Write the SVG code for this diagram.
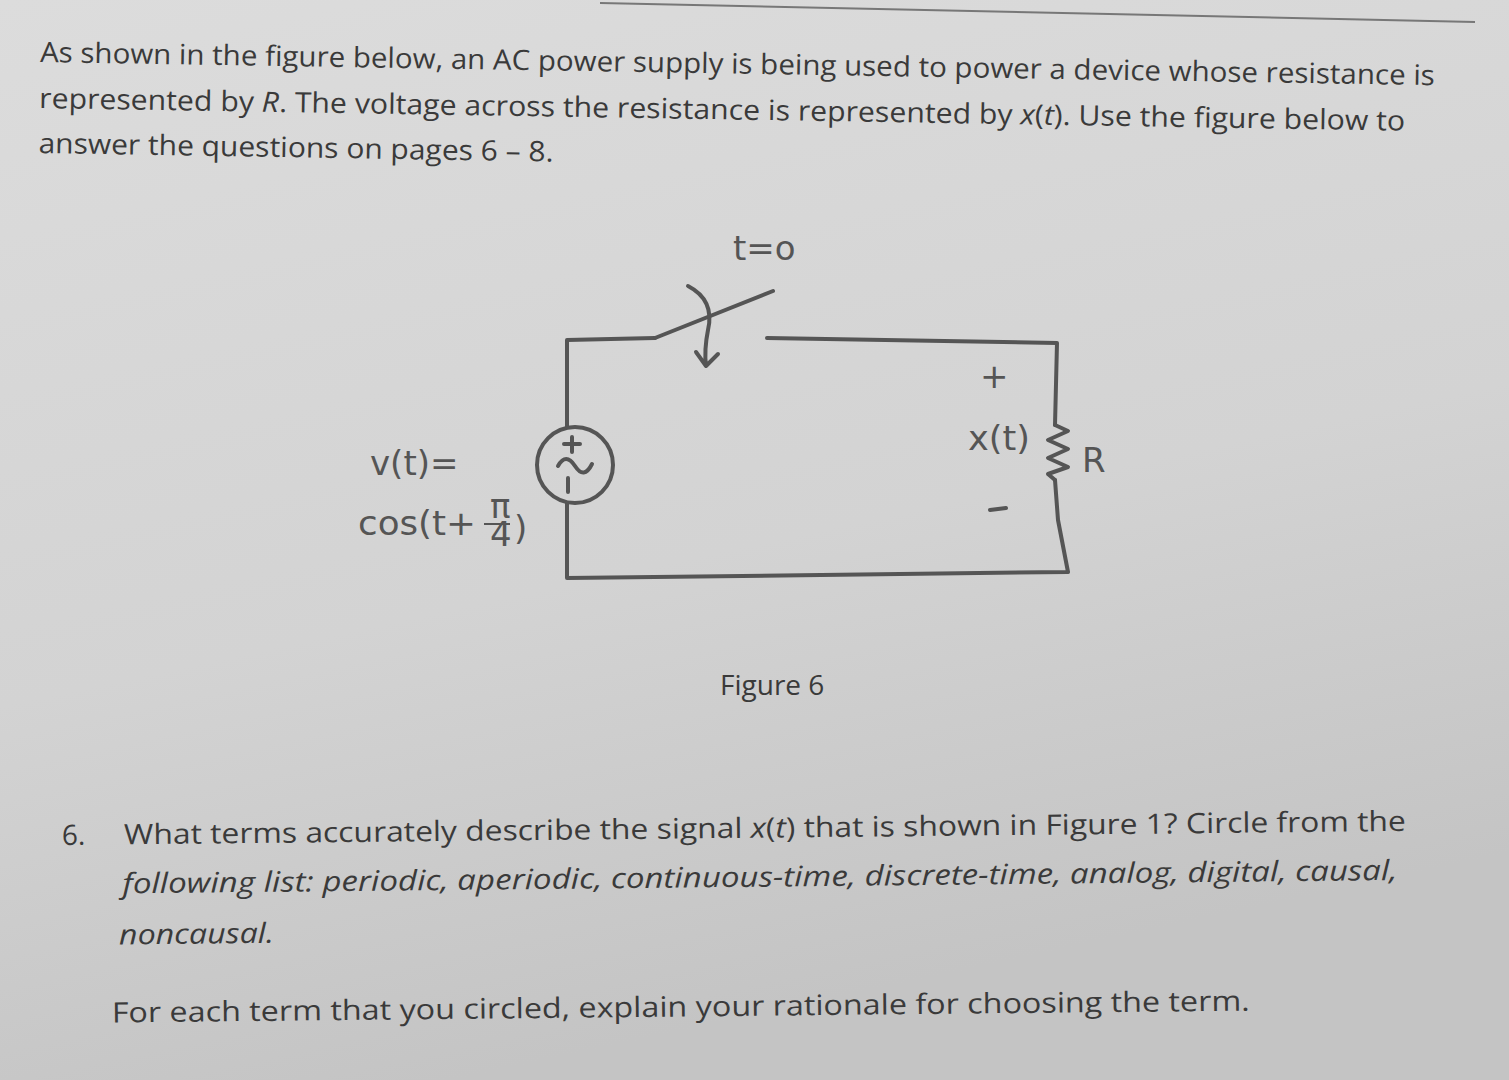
<svg xmlns="http://www.w3.org/2000/svg" width="1509" height="1080" viewBox="0 0 1509 1080">
<defs>
<linearGradient id="bg" x1="0" y1="0" x2="0.3" y2="1">
<stop offset="0" stop-color="#dcdcdc"/><stop offset="0.6" stop-color="#d3d3d3"/><stop offset="1" stop-color="#c4c4c4"/>
</linearGradient>
<style>
.t{font-family:"Open Sans","Noto Sans",sans-serif;font-size:28px;fill:#3a3a3a}
.i{font-style:italic}
.h{font-family:"DejaVu Sans",sans-serif;fill:#555;font-size:34px}
.w{fill:none;stroke:#555;stroke-width:4;stroke-linecap:round;stroke-linejoin:round}
</style>
</defs>
<rect width="1509" height="1080" fill="url(#bg)"/>
<line x1="600" y1="3" x2="1475" y2="22" stroke="#777" stroke-width="2"/>
<g transform="rotate(0.95 40 55)">
<text class="t" x="40" y="62" textLength="1395" lengthAdjust="spacingAndGlyphs">As shown in the figure below, an AC power supply is being used to power a device whose resistance is</text>
<text class="t" x="40" y="108" textLength="1366" lengthAdjust="spacingAndGlyphs">represented by <tspan class="i">R</tspan>. The voltage across the resistance is represented by <tspan class="i">x</tspan>(<tspan class="i">t</tspan>). Use the figure below to</text>
<text class="t" x="40" y="153" textLength="515" lengthAdjust="spacingAndGlyphs">answer the questions on pages 6 – 8.</text>
</g>
<g id="circuit">
<path class="w" d="M567 427 L567 340 L655 338"/>
<path class="w" d="M655 338 L773 291"/>
<path class="w" d="M688 286 Q715 300 708 330 Q704 350 706 366 M696 352 L706 366 L718 354"/>
<path class="w" d="M767 338 L1057 343 L1055 425 M1055 480 L1058 520 L1068 572 L567 578 L567 503"/>
<path class="w" d="M1055 425 L1068 431 L1048 440 L1068 449 L1048 458 L1068 467 L1048 474 L1055 480" stroke-width="3"/>
<circle class="w" cx="575" cy="465" r="38"/>
<path class="w" d="M558 466 Q566 452 575 466 T592 464" stroke-width="3"/>
<path class="w" d="M572 437 L572 452 M564 444 L580 444 M568 478 L568 492" stroke-width="3"/>
<text class="h" x="733" y="260">t=o</text>
<text class="h" x="980" y="388" font-size="30">+</text>
<text class="h" x="968" y="450" font-size="30" textLength="62" lengthAdjust="spacingAndGlyphs">x(t)</text>
<text class="h" x="1082" y="472" font-size="42">R</text>
<path class="w" d="M990 510 L1006 508" stroke-width="3"/>
<text class="h" x="370" y="475" font-size="30">v(t)=</text>
<text class="h" x="358" y="535" font-size="30" textLength="118" lengthAdjust="spacingAndGlyphs">cos(t+</text>
<text class="h" x="490" y="518" font-size="18">π</text>
<line x1="484" y1="524" x2="510" y2="524" stroke="#555" stroke-width="2"/>
<text class="h" x="490" y="546" font-size="18">4</text>
<text class="h" x="514" y="540" font-size="34">)</text>
</g>
<text class="t" x="720" y="695">Figure 6</text>
<g transform="rotate(-0.6 60 840)">
<text class="t" x="62" y="845">6.</text>
<text class="t" x="124" y="845" textLength="1282" lengthAdjust="spacingAndGlyphs">What terms accurately describe the signal <tspan class="i">x</tspan>(<tspan class="i">t</tspan>) that is shown in Figure 1? Circle from the</text>
<text class="t i" x="122" y="894" textLength="1275" lengthAdjust="spacingAndGlyphs">following list: periodic, aperiodic, continuous-time, discrete-time, analog, digital, causal,</text>
<text class="t i" x="118" y="945" textLength="155" lengthAdjust="spacingAndGlyphs">noncausal.</text>
<text class="t" x="110" y="1023" textLength="1138" lengthAdjust="spacingAndGlyphs">For each term that you circled, explain your rationale for choosing the term.</text>
</g>
</svg>
